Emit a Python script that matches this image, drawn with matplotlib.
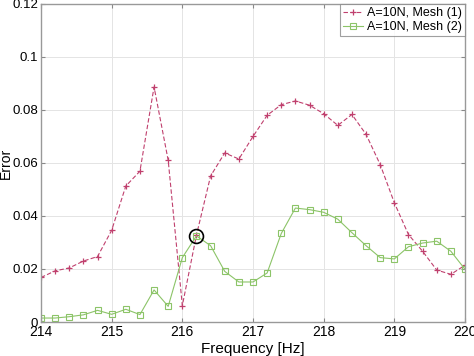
import matplotlib.pyplot as plt

freq = [214.0, 214.2, 214.4, 214.6, 214.8, 215.0, 215.2, 215.4, 215.6, 215.8,
        216.0, 216.2, 216.4, 216.6, 216.8, 217.0, 217.2, 217.4, 217.6, 217.8,
        218.0, 218.2, 218.4, 218.6, 218.8, 219.0, 219.2, 219.4, 219.6, 219.8, 220.0]

err_mesh1 = [0.0168, 0.0193, 0.0204, 0.0230, 0.0247, 0.0346, 0.0513, 0.0569, 0.0887, 0.0610,
             0.0062, 0.0328, 0.0551, 0.0638, 0.0615, 0.0700, 0.0780, 0.0820, 0.0834, 0.0818,
             0.0786, 0.0742, 0.0783, 0.0708, 0.0594, 0.0450, 0.0330, 0.0267, 0.0196, 0.0180, 0.0214]

err_mesh2 = [0.0015, 0.0015, 0.0020, 0.0027, 0.0044, 0.0029, 0.0048, 0.0028, 0.0121, 0.0059,
             0.0243, 0.0325, 0.0288, 0.0191, 0.0151, 0.0151, 0.0185, 0.0334, 0.0430, 0.0424,
             0.0414, 0.0388, 0.0337, 0.0288, 0.0243, 0.0238, 0.0284, 0.0298, 0.0305, 0.0267, 0.0199]

# highlighted crossing point
hl_x, hl_y = 216.2, 0.0325

plt.rcParams["font.family"] = ["Liberation Sans", "DejaVu Sans"]

fig = plt.figure(figsize=(4.74, 3.56), dpi=100)
ax = fig.add_axes([0.0865, 0.0955, 0.8945, 0.8933])

red = "#c0406e"
green = "#8cc468"

ax.plot(freq, err_mesh1, "--", color=red, linewidth=0.8, marker="+", markersize=5,
        markeredgewidth=0.9, dashes=(4, 2), label="A=10N, Mesh (1)")
ax.plot(freq, err_mesh2, "-", color=green, linewidth=0.8, marker="s", markersize=4,
        markerfacecolor="none", markeredgewidth=0.8, label="A=10N, Mesh (2)")
ax.plot([hl_x], [hl_y], "o", markersize=10, markerfacecolor="none",
        markeredgecolor="black", markeredgewidth=1.2)

ax.set_xlim(214, 220)
ax.set_ylim(0, 0.12)
ax.set_xticks([214, 215, 216, 217, 218, 219, 220])
ax.set_yticks([0, 0.02, 0.04, 0.06, 0.08, 0.1, 0.12])
ax.set_yticklabels(["0", "0.02", "0.04", "0.06", "0.08", "0.1", "0.12"])
ax.grid(True, color="#e4e4e4", linewidth=0.7)
ax.set_axisbelow(True)
ax.tick_params(direction="in", length=3, labelsize=10, color="#888888",
               top=True, right=True, pad=2)
ax.tick_params(axis="y", labelsize=9.5)
for s in ax.spines.values():
    s.set_color("#999999")
    s.set_linewidth(1.0)

ax.set_xlabel("Frequency [Hz]", fontsize=11, labelpad=2)
ax.set_ylabel("Error", fontsize=10)
ax.yaxis.set_label_coords(-0.0655, 0.5)

leg = ax.legend(loc="upper right", fontsize=9, frameon=True, fancybox=False,
                borderaxespad=0.0, handlelength=1.6, handletextpad=0.3,
                borderpad=0.25, labelspacing=0.15)
leg.get_frame().set_edgecolor("#888888")
leg.get_frame().set_linewidth(0.8)

fig.savefig("out.png", dpi=100)
